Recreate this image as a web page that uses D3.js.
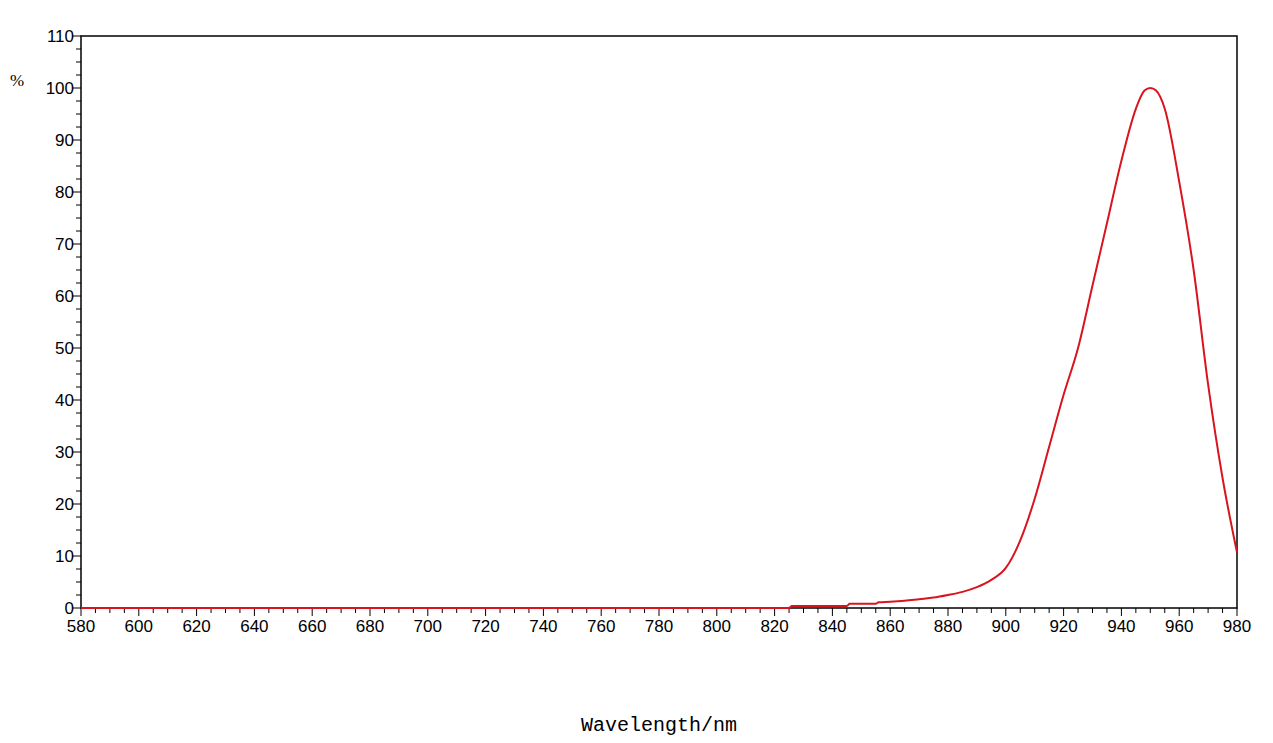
<!DOCTYPE html>
<html><head><meta charset="utf-8">
<script src="https://cdn.jsdelivr.net/npm/d3@7"></script>
<style>body{margin:0;background:#fff}</style></head>
<body><svg id="c" width="1273" height="743"></svg>
<script>
const wavelengths = [580,600,650,700,750,800,825,826,835,845,846,855,856,860,865,870,875,880,885,890,895,900,905,910,915,920,925,930,935,940,945,948,950,952,955,960,965,970,975,980];
const transmittance = [0,0,0,0,0,0,0,0.4,0.4,0.4,0.8,0.8,1.1,1.2,1.4,1.7,2.0,2.5,3.1,4.0,5.4,7.7,13,21,31,41,50,62,74,86,96,99.5,100,99.5,96,82,65,43,25,10.7];
const xTicks = d3.range(580, 981, 20);
const yTicks = d3.range(0, 111, 10);

const svg = d3.select("#c");
const L=81,R=1237,T=36,B=608;
const x = d3.scaleLinear().domain([580,980]).range([L,R]);
const y = d3.scaleLinear().domain([0,110]).range([B,T]);

svg.append("rect").attr("x",L).attr("y",T).attr("width",R-L).attr("height",B-T)
  .attr("fill","none").attr("stroke","#000").attr("stroke-width",1.5);

// x minor ticks
svg.append("g").selectAll("line").data(d3.range(580,981,5)).join("line")
  .attr("x1",d=>x(d)).attr("x2",d=>x(d)).attr("y1",B).attr("y2",d=>B+(d%20===0?8:5))
  .attr("stroke","#000").attr("stroke-width",1);
svg.append("g").selectAll("text").data(xTicks).join("text")
  .attr("x",d=>x(d)).attr("y",B+24).attr("text-anchor","middle")
  .attr("font-family","Liberation Sans, Arial").attr("font-size",17).text(d=>d);

svg.append("g").selectAll("line").data(d3.range(0,110.1,2.5)).join("line")
  .attr("y1",d=>y(d)).attr("y2",d=>y(d)).attr("x1",L).attr("x2",d=>L-(d%10===0?8:5))
  .attr("stroke","#000").attr("stroke-width",1);
svg.append("g").selectAll("text").data(yTicks).join("text")
  .attr("x",L-7).attr("y",d=>y(d)+6).attr("text-anchor","end")
  .attr("font-family","Liberation Sans, Arial").attr("font-size",17).text(d=>d);

svg.append("text").attr("x",10).attr("y",86).attr("font-family","Liberation Serif, serif").attr("font-size",17).text("%");
svg.append("text").attr("x",659).attr("y",731).attr("text-anchor","middle")
  .attr("font-family","Liberation Mono, monospace").attr("font-size",20).text("Wavelength/nm");

const line = d3.line().x((d,i)=>x(wavelengths[i])).y(d=>y(d)).curve(d3.curveMonotoneX);
svg.append("path").datum(transmittance).attr("d",line)
  .attr("fill","none").attr("stroke","#d9141e").attr("stroke-width",2);
</script></body></html>
